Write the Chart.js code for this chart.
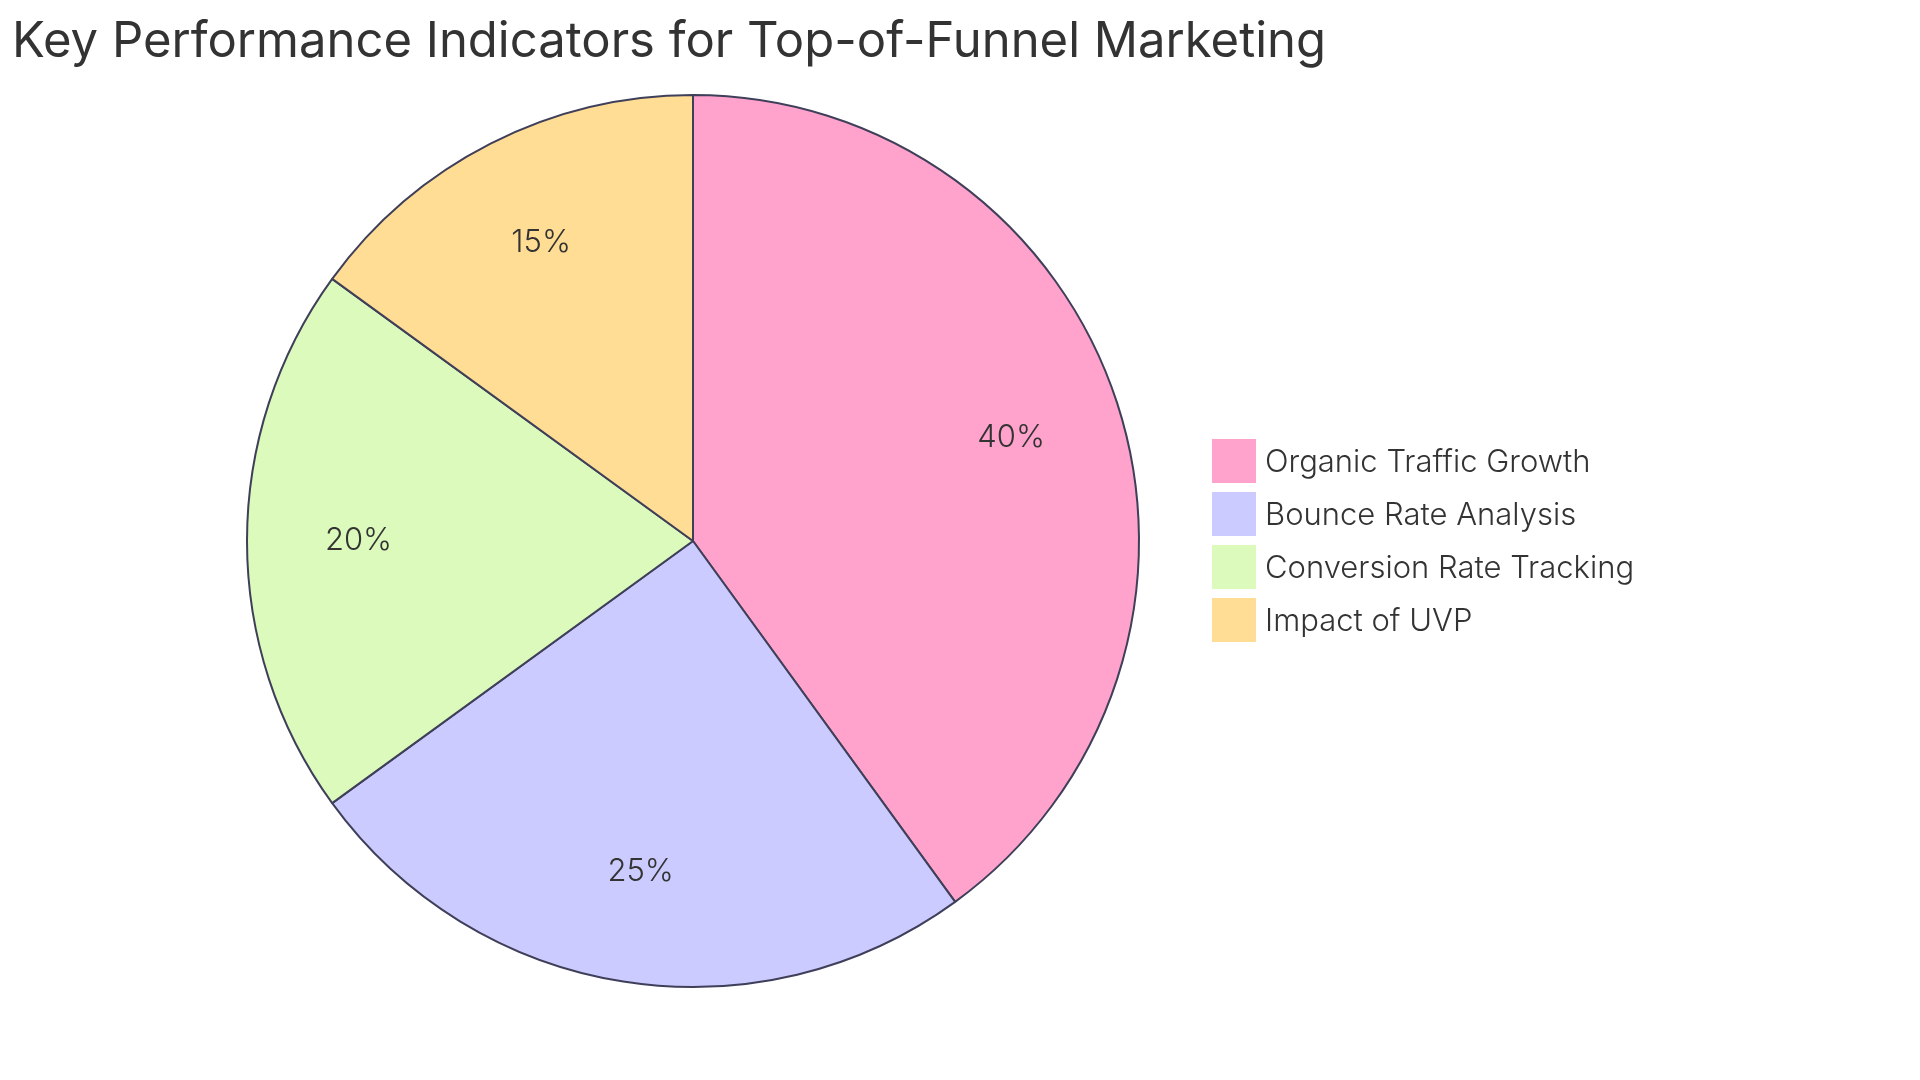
<!DOCTYPE html>
<html>
<head>
<meta charset="utf-8">
<script src="https://cdn.jsdelivr.net/npm/chart.js@4"></script>
<style>
  body { margin: 0; background: #fff; font-family: Inter, "Open Sans", sans-serif; }
  #wrap { position: relative; width: 1920px; height: 1080px; }
  h1 { position: absolute; left: 12px; top: 10px; margin: 0; font-weight: 400; font-size: 49px; color: #333; }
  #legend { position: absolute; left: 1212px; top: 434px; }
  .item { display: flex; align-items: center; height: 53px; font-size: 31px; color: #333; font-weight: 300; }
  .sw { width: 44px; height: 44px; margin-right: 9px; }
</style>
</head>
<body>
<div id="wrap">
  <canvas id="myChart" width="1920" height="1080"></canvas>
  <h1>Key Performance Indicators for Top-of-Funnel Marketing</h1>
  <div id="legend"></div>
</div>
<script>
const labels = ['Organic Traffic Growth', 'Bounce Rate Analysis', 'Conversion Rate Tracking', 'Impact of UVP'];
const values = [40, 25, 20, 15];
const colors = ['#ffa3cc', '#cbcbff', '#dbfabb', '#ffdd94'];

// percentage labels inside each slice
const sliceLabels = {
  id: 'sliceLabels',
  afterDatasetsDraw(chart) {
    const ctx = chart.ctx;
    const total = values.reduce((a, b) => a + b, 0);
    chart.getDatasetMeta(0).data.forEach((arc, i) => {
      const mid = (arc.startAngle + arc.endAngle) / 2;
      const r = arc.outerRadius * 0.75;
      ctx.save();
      ctx.font = '300 31px Inter, "Open Sans", sans-serif';
      ctx.fillStyle = '#333';
      ctx.textAlign = 'center';
      ctx.textBaseline = 'middle';
      ctx.fillText(Math.round(values[i] / total * 100) + '%', arc.x + Math.cos(mid) * r, arc.y + Math.sin(mid) * r);
      ctx.restore();
    });
  }
};

new Chart(document.getElementById('myChart'), {
  type: 'pie',
  data: {
    labels: labels,
    datasets: [{
      data: values,
      backgroundColor: colors,
      borderColor: '#3f3f5a',
      borderWidth: 2
    }]
  },
  options: {
    responsive: false,
    animation: false,
    layout: { padding: { top: 94, bottom: 92, left: 246, right: 780 } },
    plugins: { legend: { display: false }, tooltip: { enabled: false } }
  },
  plugins: [sliceLabels]
});

const legend = document.getElementById('legend');
labels.forEach((l, i) => {
  legend.innerHTML += '<div class="item"><div class="sw" style="background:' + colors[i] + '"></div>' + l + '</div>';
});
</script>
</body>
</html>
